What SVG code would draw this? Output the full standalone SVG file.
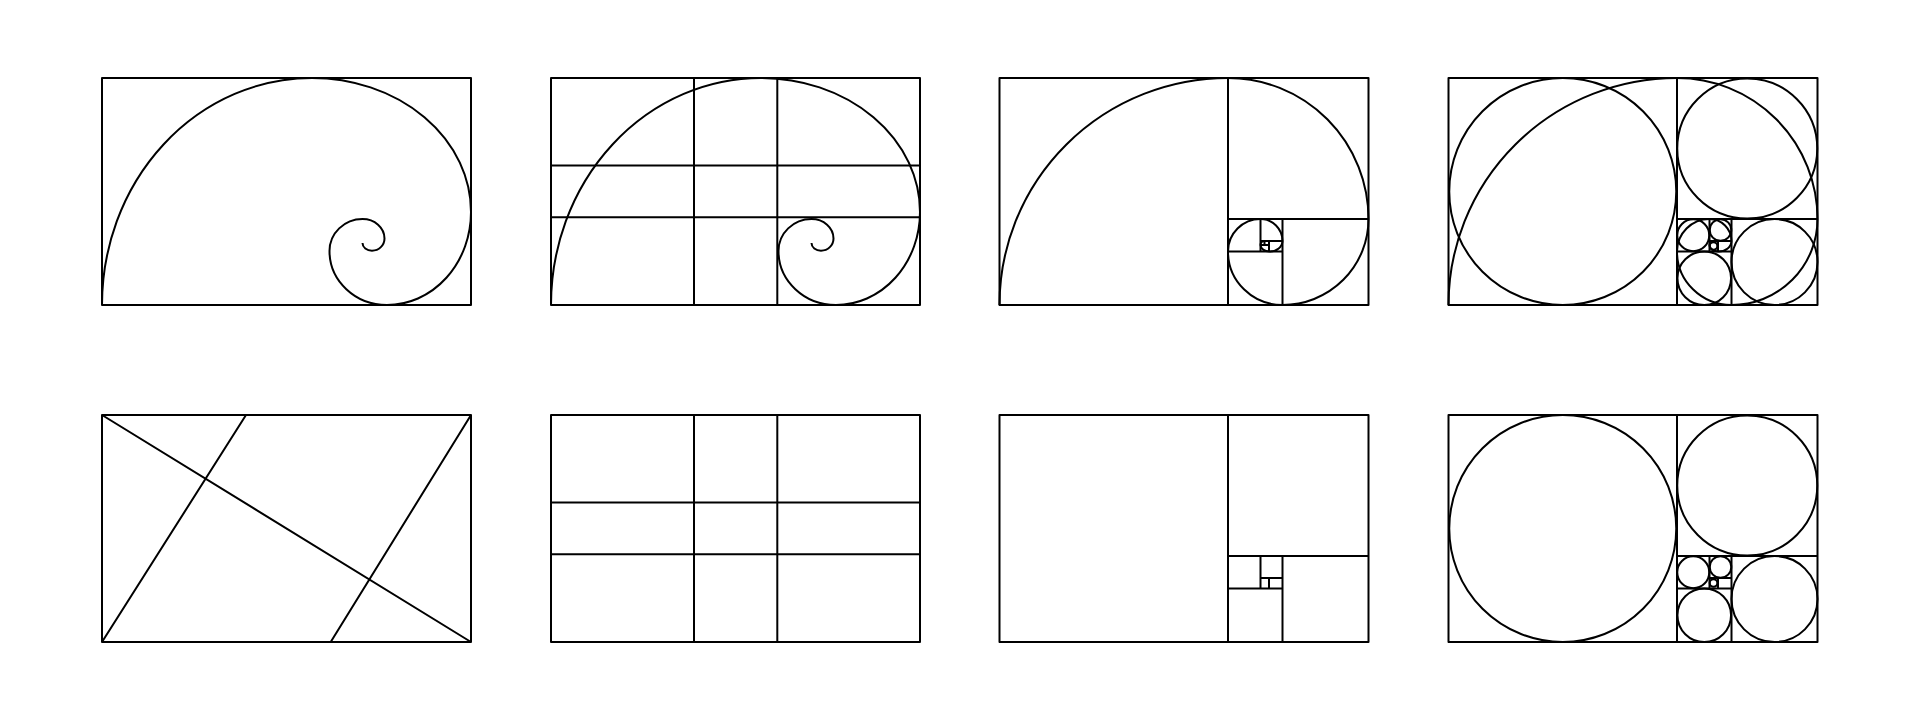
<svg xmlns="http://www.w3.org/2000/svg" width="1920" height="720" viewBox="0 0 1920 720">
<style>
.s{fill:none;stroke:#000;stroke-width:2;stroke-linejoin:round;stroke-linecap:butt}
</style>
<defs>
<path id="logSpiral" d="M0,227 A210,227 0 0 1 210,0 A159,134 0 0 1 369,134 A84,93 0 0 1 285,227 A57.5,54 0 0 1 227.5,173 A33,32 0 0 1 260.5,141 A22,19.5 0 0 1 282.5,160.5 A12.5,12.2 0 0 1 270,172.7 A9.5,7.7 0 0 1 260.5,165"/>
<path id="arcSpiral" d="M0,227 A228.5,227 0 0 1 228.5,0 A140.5,141 0 0 1 369,141 A86,86 0 0 1 283,227 A54.5,53.5 0 0 1 228.5,173.5 A32.5,32.5 0 0 1 261,141 A22,22 0 0 1 283,163 A13,10.5 0 0 1 270,173.5 A9,6.5 0 0 1 261,167 A4,4 0 0 1 265,163"/>
<path id="squares" d="M228.5,0 V227 M228.5,141 H369 M283,141 V227 M228.5,173.5 H283 M261,141 V173.5 M261,163 H283 M269.5,163 V173.5"/>
<g id="circles">
<circle cx="114.25" cy="113.5" r="113.5"/>
<circle cx="298.75" cy="70.5" r="70"/>
<circle cx="326" cy="184" r="43"/>
<circle cx="255.75" cy="200.25" r="26.8"/>
<circle cx="244.75" cy="157.25" r="16"/>
<circle cx="272" cy="152" r="10.8"/>
<circle cx="265" cy="168" r="3.8"/>
</g>
</defs>
<rect x="0" y="0" width="1920" height="720" fill="#fff"/>

<g id="panel-spiral" class="s" transform="translate(102,78)">
<rect x="0" y="0" width="369" height="227"/>
<use href="#logSpiral"/>
</g>

<g id="panel-spiral-grid" class="s" transform="translate(551,78)">
<rect x="0" y="0" width="369" height="227"/>
<path d="M143,0 V227 M226.3,0 V227 M0,87.5 H369 M0,139.3 H369"/>
<use href="#logSpiral"/>
</g>

<g id="panel-spiral-squares" class="s" transform="translate(999.5,78)">
<rect x="0" y="0" width="369" height="227"/>
<use href="#squares"/>
<path d="M261,167 H269.5 M265,163 V167"/>
<use href="#arcSpiral"/>
</g>

<g id="panel-spiral-circles" class="s" transform="translate(1448.5,78)">
<rect x="0" y="0" width="369" height="227"/>
<use href="#squares"/>
<use href="#circles"/>
<use href="#arcSpiral"/>
</g>

<g id="panel-diagonals" class="s" transform="translate(102,415)">
<rect x="0" y="0" width="369" height="227"/>
<path d="M0,0 L369,227 M0,227 L144,0 M228.7,227 L369,0"/>
</g>

<g id="panel-grid" class="s" transform="translate(551,415)">
<rect x="0" y="0" width="369" height="227"/>
<path d="M143,0 V227 M226.3,0 V227 M0,87.5 H369 M0,139.3 H369"/>
</g>

<g id="panel-squares" class="s" transform="translate(999.5,415)">
<rect x="0" y="0" width="369" height="227"/>
<use href="#squares"/>
</g>

<g id="panel-circles" class="s" transform="translate(1448.5,415)">
<rect x="0" y="0" width="369" height="227"/>
<use href="#squares"/>
<use href="#circles"/>
</g>
</svg>
